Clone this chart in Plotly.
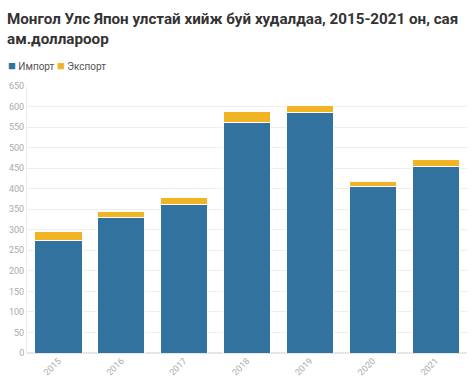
import plotly.graph_objects as go

years = ["2015", "2016", "2017", "2018", "2019", "2020", "2021"]
import_vals = [273, 331, 361, 561, 586, 406, 453]
export_vals = [22, 14, 17, 27, 17, 11, 18]
y_ticks = list(range(0, 651, 50))

series_names = ["Импорт", "Экспорт"]
series_colors = ["#31729f", "#f1b422"]

title_text = "Монгол Улс Япон улстай хийж буй худалдаа, 2015-2021 он, сая<br>ам.доллароор"

fig = go.Figure()
for name, vals, col in zip(series_names, [import_vals, export_vals], series_colors):
    fig.add_trace(go.Bar(
        name=name, x=years, y=vals,
        marker=dict(color=col, line=dict(color="white", width=1)),
    ))

legend_text = " ".join(
    f"<span style='color:{c};font-size:13px'>■</span> {n}" for n, c in zip(series_names, series_colors)
)

fig.update_layout(
    barmode="stack",
    bargap=0.25,
    width=474, height=385,
    margin=dict(l=27, r=7, t=86, b=32, autoexpand=False),
    paper_bgcolor="white",
    plot_bgcolor="white",
    font=dict(family="Roboto, sans-serif", color="#999"),
    title=dict(
        text=title_text,
        font=dict(family="Roboto, sans-serif", size=15.2, color="#333", weight="bold"),
        x=7/474, xanchor="left", xref="container",
        y=1 - 24/385, yanchor="top", yref="container",
    ),
    showlegend=False,
    annotations=[dict(
        text=legend_text, showarrow=False,
        xref="paper", yref="paper",
        x=-21/440, xanchor="left",
        y=1 + (86 - 65) / 267, yanchor="middle",
        font=dict(size=10, color="#555", family="Roboto, sans-serif"),
    )],
    xaxis=dict(
        tickangle=-45,
        tickfont=dict(size=9, color="#aaa"),
        showgrid=False,
        showline=False,
        ticks="",
        automargin=False,
    ),
    yaxis=dict(
        range=[0, 650],
        tickvals=y_ticks,
        tickfont=dict(size=9, color="#aaa"),
        gridcolor="#eeeeee",
        zeroline=True,
        zerolinecolor="#e6e6e6",
        showline=True,
        linecolor="#eeeeee",
        ticks="",
        automargin=False,
    ),
)

fig.write_html("out.html", config={"displayModeBar": False},
               post_script="document.body.style.margin='0';")
